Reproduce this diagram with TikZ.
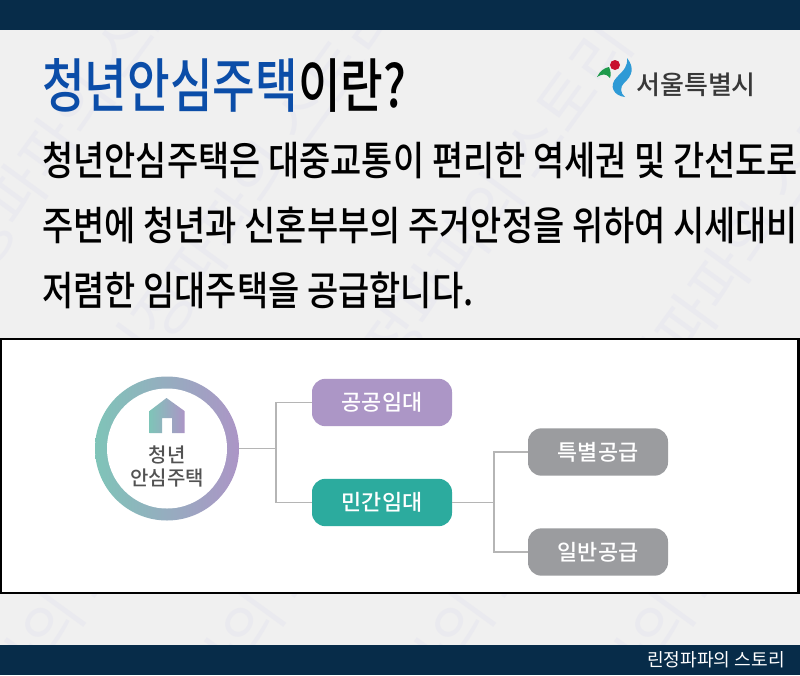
\documentclass[tikz,border=0pt]{standalone}
\usepackage{fontspec}
\usepackage{graphicx}
\setmainfont{Noto Sans CJK KR}
\newfontfamily\krmedium{Noto Sans CJK KR Medium}
\definecolor{navyband}{HTML}{072C49}
\definecolor{pagegrey}{HTML}{F0F0F0}
\definecolor{marktone}{HTML}{EAEAEF}
\definecolor{titleblue}{HTML}{0B4DA8}
\definecolor{ringteal}{HTML}{7FC4B8}
\definecolor{ringpurple}{HTML}{AC95C6}
\definecolor{boxpurple}{HTML}{AC96C6}
\definecolor{boxteal}{HTML}{2CAB9E}
\definecolor{boxgrey}{HTML}{9B9C9F}
\definecolor{linegrey}{HTML}{B5B5B5}
\definecolor{logored}{HTML}{C8102E}
\definecolor{logogreen}{HTML}{1E9A4B}
\definecolor{logoblue}{HTML}{2E9AD6}
\tikzset{
    planbox/.style={rounded corners=10,minimum width=105pt,minimum height=35.5pt,inner sep=0pt,text=white,font=\fontsize{16.4}{16}\krmedium},
    bodyline/.style={anchor=west,inner sep=0pt,font=\fontsize{30}{30}\krmedium},
    wire/.style={linegrey,line width=0.9pt},
    watermark/.style={marktone,rotate=54,inner sep=0pt,font=\fontsize{46}{46}\selectfont}
}
\begin{document}
\begin{tikzpicture}[x=0.75pt,y=-0.75pt]
        \useasboundingbox (0,0) rectangle (800,675);
        \fill[pagegrey] (0,0) rectangle (800,675);
        \begin{scope}
            \clip (0,30) rectangle (800,645);
            \foreach \mx/\my in {70/120,250/190,480/220,740/250,40/640,240/640,450/640,650/640}
                \node[watermark] at (\mx,\my){린정파파의 스토리};
        \end{scope}
        \fill[navyband] (0,0) rectangle (800,30);
        \fill[navyband] (0,645) rectangle (800,675);

        \node[anchor=west,inner sep=0pt] (title) at (42,85){\scalebox{0.79}[1]{\fontsize{44}{44}\krmedium\textcolor{titleblue}{청년안심주택}\textcolor{black}{이란?}}};
        \node[bodyline] (line1) at (42,160){\scalebox{0.848}[1]{청년안심주택은 대중교통이 편리한 역세권 및 간선도로}};
        \node[bodyline] (line2) at (42,225){\scalebox{0.848}[1]{주변에 청년과 신혼부부의 주거안정을 위하여 시세대비}};
        \node[bodyline] (line3) at (42,290){\scalebox{0.848}[1]{저렴한 임대주택을 공급합니다.}};

        \fill[logored] (615,65) circle (5);
        \fill[logogreen] (597,77) .. controls (600,71) and (604,68) .. (609,67) .. controls (611,71) and (611,75) .. (610,78) .. controls (606,73) and (602,74) .. (597,77);
        \fill[logoblue] (627,58) .. controls (635,68) and (632,76) .. (624,83) .. controls (620,87) and (620,93) .. (625,97) .. controls (614,96) and (608,86) .. (617,77) .. controls (624,70) and (628,66) .. (627,58);
        \node[anchor=west,inner sep=0pt,text=black!78,font=\fontsize{19.5}{20}\krmedium] (seoul) at (636,85){서울특별시};

        \fill[white,draw=black,line width=1.8pt] (1,339) rectangle (798.5,593);

        \node[circle,minimum size=108pt,inner sep=0pt,shading angle=125,left color=ringteal,right color=ringpurple] (hub) at (167,448.5){};
        \node[circle,minimum size=90pt,inner sep=0pt,fill=white] (hubinner) at (167,448.5){};
        \shade[shading angle=125,left color=ringteal,right color=ringpurple] (166.5,398) -- (184.5,411) -- (184.5,433) -- (172,433) -- (172,418) -- (162,418) -- (162,433) -- (149.5,433) -- (149.5,411) -- cycle;
        \node[align=center,inner sep=0pt,text=black!68,font=\fontsize{15}{17.25}\krmedium] (hublabel) at (167,466.5){청년\\안심주택};

        \node[planbox,fill=boxpurple] (public) at (382,402.5){공공임대};
        \node[planbox,fill=boxteal] (private) at (382,502.5){민간임대};
        \node[planbox,fill=boxgrey] (special) at (598,452){특별공급};
        \node[planbox,fill=boxgrey] (general) at (598,552){일반공급};

        \draw[wire] (hub.east) -- (276,448.5);
        \draw[wire] (public.west) -| (276,502.5) -- (private.west);
        \draw[wire] (private.east) -- (494,502.5);
        \draw[wire] (special.west) -| (494,552) -- (general.west);

        \node[anchor=east,inner sep=0pt,text=white,font=\fontsize{13.6}{14}\selectfont] (story) at (785,660){린정파파의 스토리};
\end{tikzpicture}
\end{document}
